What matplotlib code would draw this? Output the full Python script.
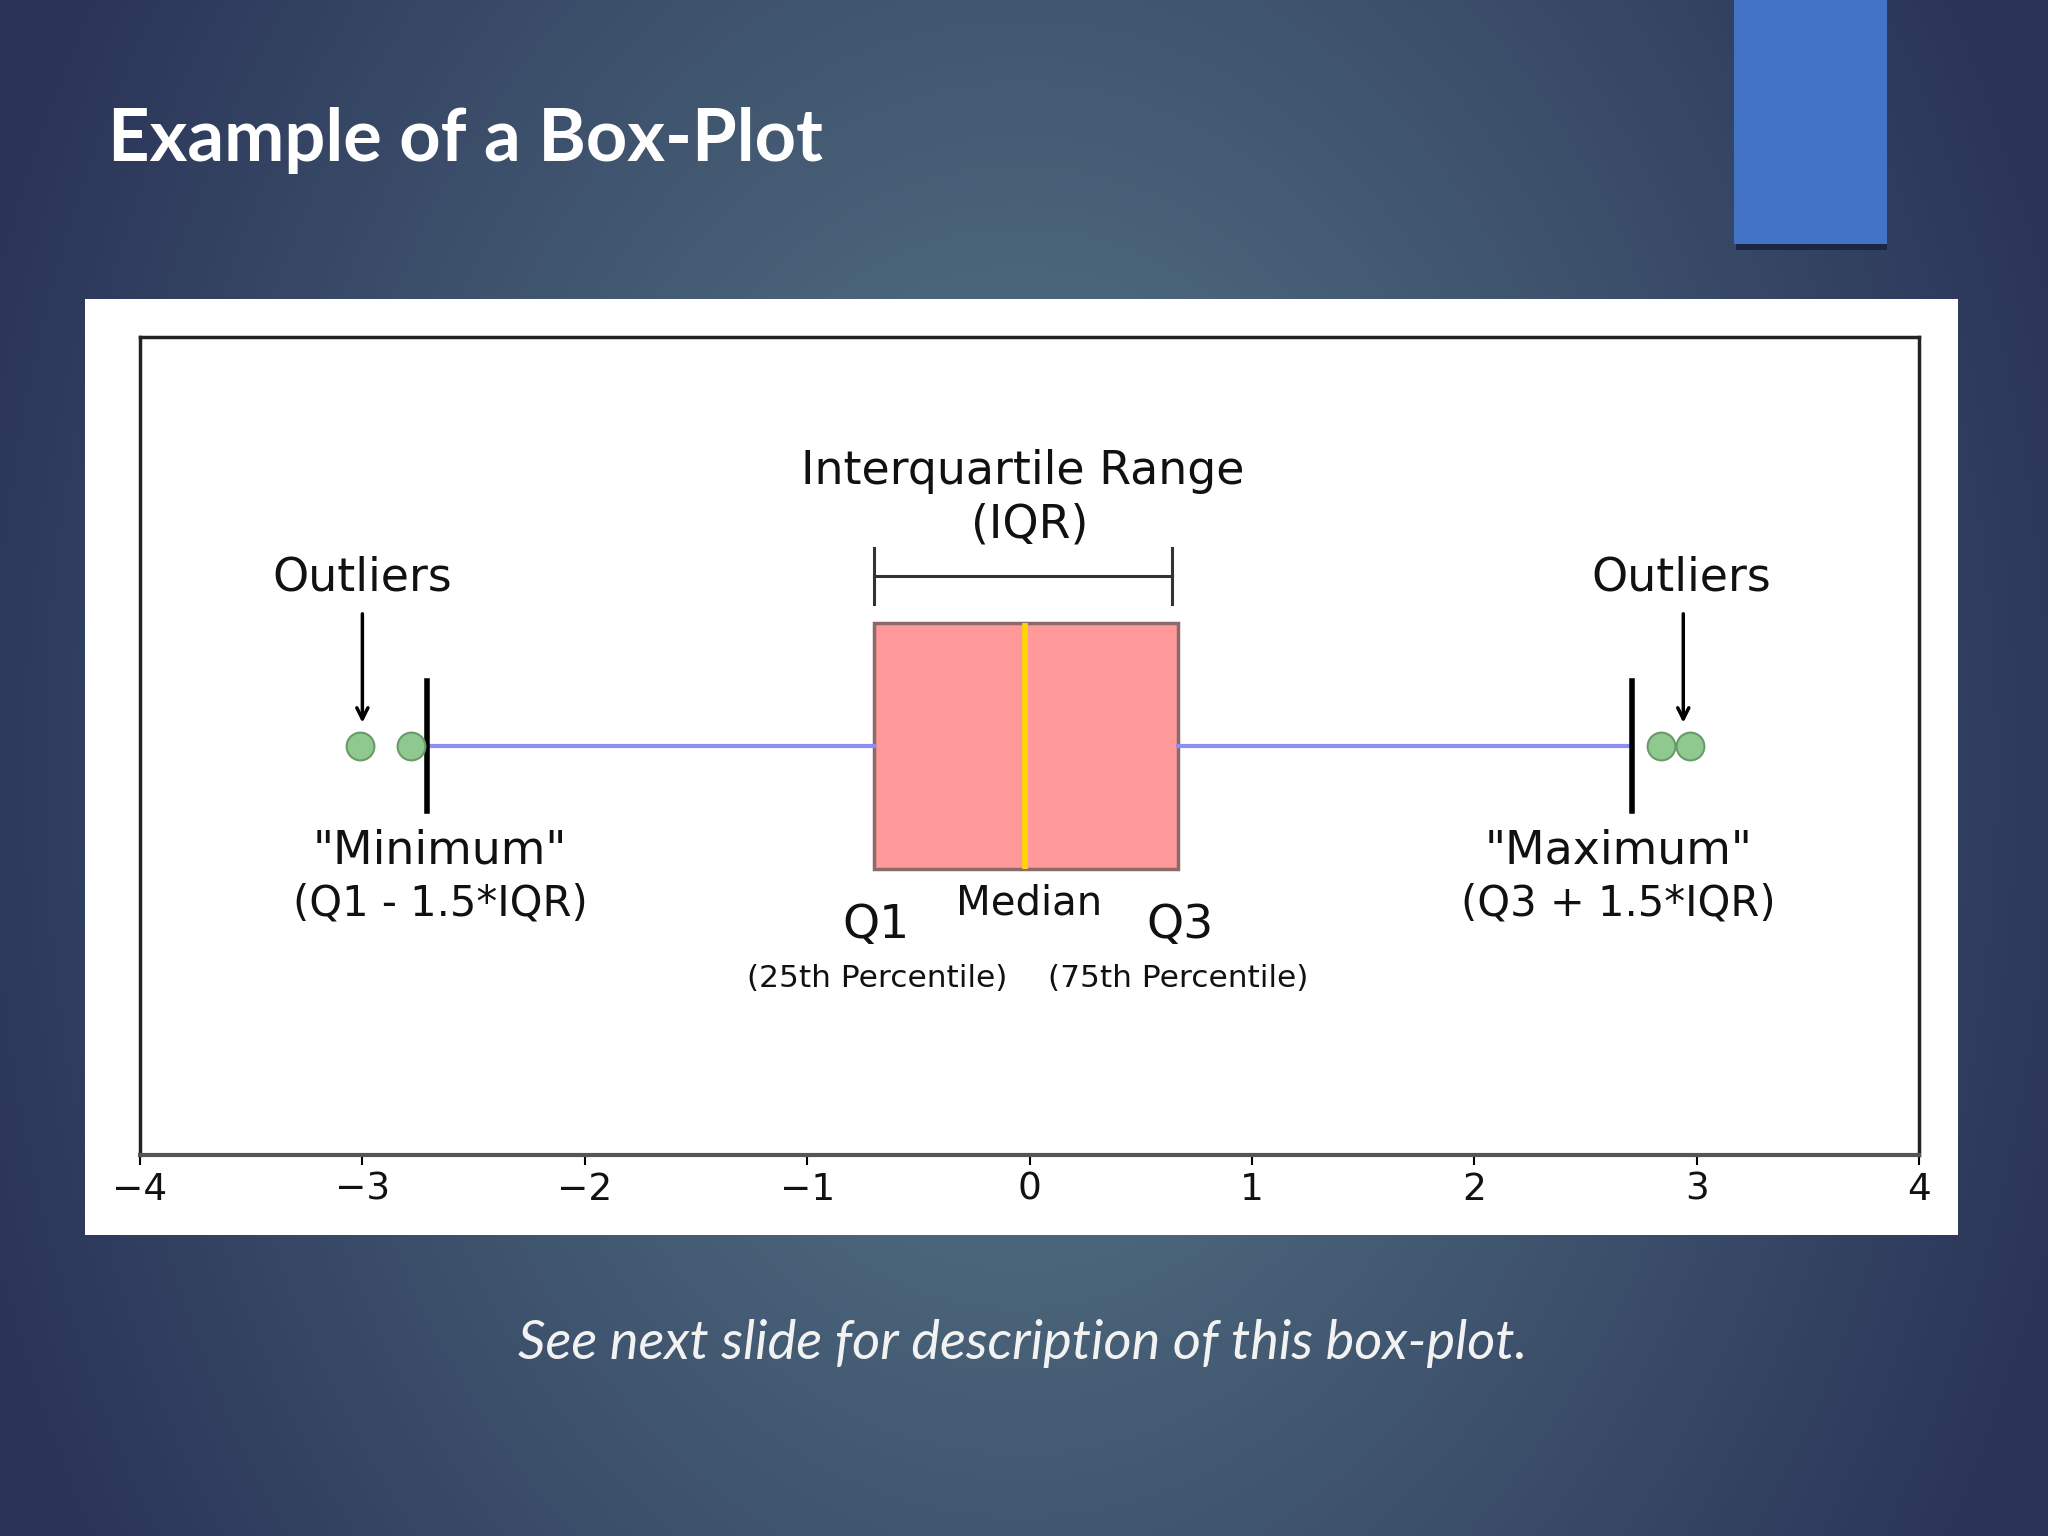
import numpy as np
import matplotlib
matplotlib.use("Agg")
import matplotlib.pyplot as plt
from matplotlib.patches import Rectangle

# ---- data ----
q1, median, q3 = -0.70, -0.02, 0.67
whisker_low, whisker_high = -2.71, 2.71
fliers = [-3.01, -2.78, 2.84, 2.97]
xticks = [-4, -3, -2, -1, 0, 1, 2, 3, 4]
xtick_labels = ["\u22124", "\u22123", "\u22122", "\u22121", "0", "1", "2", "3", "4"]

title = "Example of a Box-Plot"
subtitle = "See next slide for description of this box-plot."

W, H = 2048, 1536
fig = plt.figure(figsize=(W / 100, H / 100), dpi=100)

# ---- background gradient ----
bg = fig.add_axes([0, 0, 1, 1])
yy, xx = np.mgrid[0:H, 0:W]
t = np.sqrt(((xx - 1020) / 1100.0) ** 2 + ((yy - 768) / 1500.0) ** 2)
t = np.clip(t, 0, 1)
c_center = np.array([90, 124, 138]) / 255.0
c_edge = np.array([42, 52, 88]) / 255.0
img = c_center[None, None, :] * (1 - t[..., None]) + c_edge[None, None, :] * t[..., None]
bg.imshow(img, extent=[0, W, H, 0], aspect="auto", interpolation="bilinear")
bg.set_xlim(0, W)
bg.set_ylim(H, 0)
bg.axis("off")

# white panel
bg.add_patch(Rectangle((85, 299), 1958 - 85, 1235 - 299, facecolor="white", edgecolor="none", zorder=2))
# blue accent rectangle with shadow
bg.add_patch(Rectangle((1736, 236), 1887 - 1736, 14, facecolor="#1b2744", edgecolor="none", zorder=2))
bg.add_patch(Rectangle((1734, -5), 1887 - 1734, 249, facecolor="#4373c4", edgecolor="none", zorder=3))

# title and subtitle
fig.text(108 / W, 1 - 141 / H, title, color="white", fontsize=52, fontweight="bold",
         family="Lato", ha="left", va="center")
fig.text(1023 / W, 1 - 1343 / H, subtitle, color="#f2f2f2", fontsize=39, style="italic",
         family="Lato", ha="center", va="center")

# ---- chart axes ----
ax = fig.add_axes([140 / W, 1 - 1155 / H, (1919 - 140) / W, (1155 - 337) / H])
ax.set_facecolor("white")

stats = [dict(med=median, q1=q1, q3=q3, whislo=whisker_low, whishi=whisker_high, fliers=fliers)]
ax.bxp(stats, positions=[0.5], widths=0.30, vert=False, patch_artist=True,
       showfliers=True, capwidths=0.16,
       boxprops=dict(facecolor="#ff9999", edgecolor="#8a6a6a", linewidth=2.5),
       medianprops=dict(color="#ffd700", linewidth=4),
       whiskerprops=dict(color="#8c8cf2", linewidth=3),
       capprops=dict(color="black", linewidth=4),
       flierprops=dict(marker="o", markersize=20, markerfacecolor="#8fc98f",
                       markeredgecolor="#6a9a6a", markeredgewidth=1.5))

ax.set_xlim(-4, 4)
ax.set_ylim(0, 1)
ax.set_yticks([])
ax.set_xticks(xticks)
ax.set_xticklabels(xtick_labels, fontsize=27, color="#111111")
ax.tick_params(axis="x", length=7, width=1.5, pad=5)
for side in ["top", "left", "right"]:
    ax.spines[side].set_color("#222222")
    ax.spines[side].set_linewidth(2.5)
ax.spines["bottom"].set_color("#555555")
ax.spines["bottom"].set_linewidth(3)

# IQR bracket
br_y, br_l, br_r = 0.708, -0.70, 0.64
ax.plot([br_l, br_r], [br_y, br_y], color="#333333", lw=2.2)
ax.plot([br_l, br_l], [br_y - 0.034, br_y + 0.034], color="#333333", lw=2.2)
ax.plot([br_r, br_r], [br_y - 0.034, br_y + 0.034], color="#333333", lw=2.2)

# outlier arrows
for xa in [-3.0, 2.94]:
    ax.annotate("", xy=(xa, 0.525), xytext=(xa, 0.665),
                arrowprops=dict(arrowstyle="->,head_length=0.8,head_width=0.4", color="black", lw=2.5))

txt = dict(ha="center", va="center", color="#111111")
ax.text(-0.03, 0.835, "Interquartile Range", fontsize=33, **txt)
ax.text(0.0, 0.770, "(IQR)", fontsize=33, **txt)
ax.text(-3.0, 0.705, "Outliers", fontsize=33, **txt)
ax.text(2.93, 0.705, "Outliers", fontsize=33, **txt)
ax.text(-2.65, 0.372, "\"Minimum\"", fontsize=33, **txt)
ax.text(-2.65, 0.308, "(Q1 - 1.5*IQR)", fontsize=30, **txt)
ax.text(2.65, 0.372, "\"Maximum\"", fontsize=33, **txt)
ax.text(2.65, 0.308, "(Q3 + 1.5*IQR)", fontsize=30, **txt)
ax.text(-0.69, 0.281, "Q1", fontsize=34, **txt)
ax.text(0.675, 0.281, "Q3", fontsize=34, **txt)
ax.text(0.0, 0.308, "Median", fontsize=29, **txt)
ax.text(-0.685, 0.216, "(25th Percentile)", fontsize=22.5, **txt)
ax.text(0.67, 0.216, "(75th Percentile)", fontsize=22.5, **txt)

fig.savefig("out.png", dpi=100)
